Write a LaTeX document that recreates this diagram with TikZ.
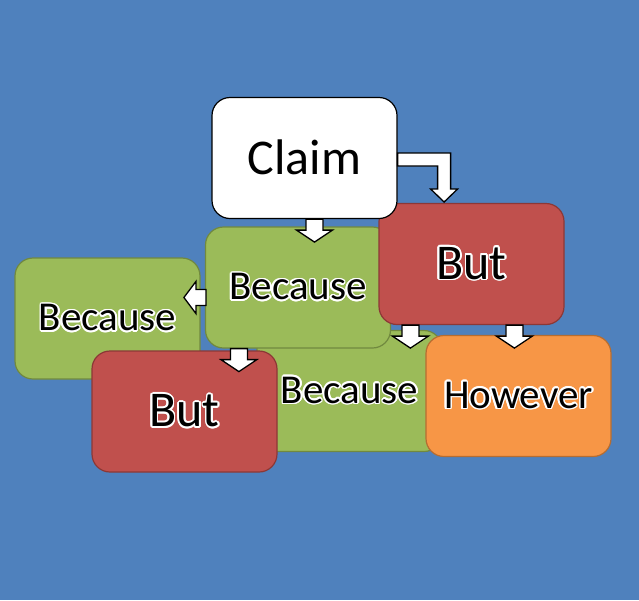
\documentclass[tikz,border=0pt]{standalone}
\usepackage{fontspec}
\setmainfont{Carlito}
\usepackage[copies]{contour}
\contourlength{1.6pt}
\usetikzlibrary{calc}
\definecolor{myBack}{HTML}{4F81BD}
\definecolor{myGreen}{HTML}{9BBB59}
\definecolor{myGreenD}{HTML}{71893F}
\definecolor{myRed}{HTML}{C0504D}
\definecolor{myRedD}{HTML}{8C3836}
\definecolor{myOrange}{HTML}{F79646}
\definecolor{myOrangeD}{HTML}{B66D31}

% fat white arrow pointing down, #1 = middle of its top end
\newcommand{\downarr}[1]{\draw[A] #1 ++(-8.5,0) -- ++(17,0) -- ++(0,11) -- ++(9.5,0) -- ++(-18,12) -- ++(-18,-12) -- ++(9.5,0) -- cycle;}

\begin{document}
\begin{tikzpicture}[x=1pt, y=-1pt, line width=1.2pt]
  \tikzstyle{bx}=[rounded corners=18pt, minimum width=185pt, minimum height=121pt, inner sep=0pt]
  \tikzstyle{W}=[bx, fill=white, draw=black, font=\fontsize{50}{60}\selectfont]
  \tikzstyle{G}=[bx, fill=myGreen, draw=myGreenD, font=\fontsize{41}{48}\selectfont]
  \tikzstyle{R}=[bx, fill=myRed, draw=myRedD, font=\fontsize{50}{60}\selectfont]
  \tikzstyle{O}=[bx, fill=myOrange, draw=myOrangeD, font=\fontsize{41}{48}\selectfont]
  \tikzstyle{A}=[draw=black, fill=white, line width=1.3pt]

  \fill[myBack] (0,0) rectangle (639,600);

  \node[G] at (349.5,391) (bec3) {\contour{white}{Because}};
  \node[G] at (298,287.5) (bec1) {\contour{white}{Because}};
  \node[R] at (471.5,264) (but1) {\contour{white}{But}};
  \node[W] at (304.5,158) (claim) {\contour{white}{Claim}};
  \node[G] at (107.5,318.5) (bec2) {\contour{white}{Because}};
  \node[R] at (184.5,411.5) (but2) {\contour{white}{But}};
  \node[O] at (518.5,396) (how) {\contour{white}{However}};

  % arrows
  \downarr{($(claim.south)+(10,0)$)}
  \draw[A] ($(claim.east)+(0,1.5)$) ++(0,-6.5) -- ++(53,0) -- ++(0,36) -- ++(7,0) -- ++(-13.5,13) -- ++(-13.5,-13) -- ++(7,0) -- ++(0,-23) -- ++(-40,0) -- cycle;
  \draw[A] ($(bec1.west)+(1,10)$) ++(0,-8) -- ++(-10,0) -- ++(0,-8) -- ++(-12,16) -- ++(12,16) -- ++(0,-8) -- ++(10,0) -- cycle;
  \downarr{($(bec1.south west)+(34,0)$)}
  \downarr{($(but1.south west)+(32,0)$)}
  \downarr{($(but1.south west)+(136,0)$)}
\end{tikzpicture}
\end{document}
